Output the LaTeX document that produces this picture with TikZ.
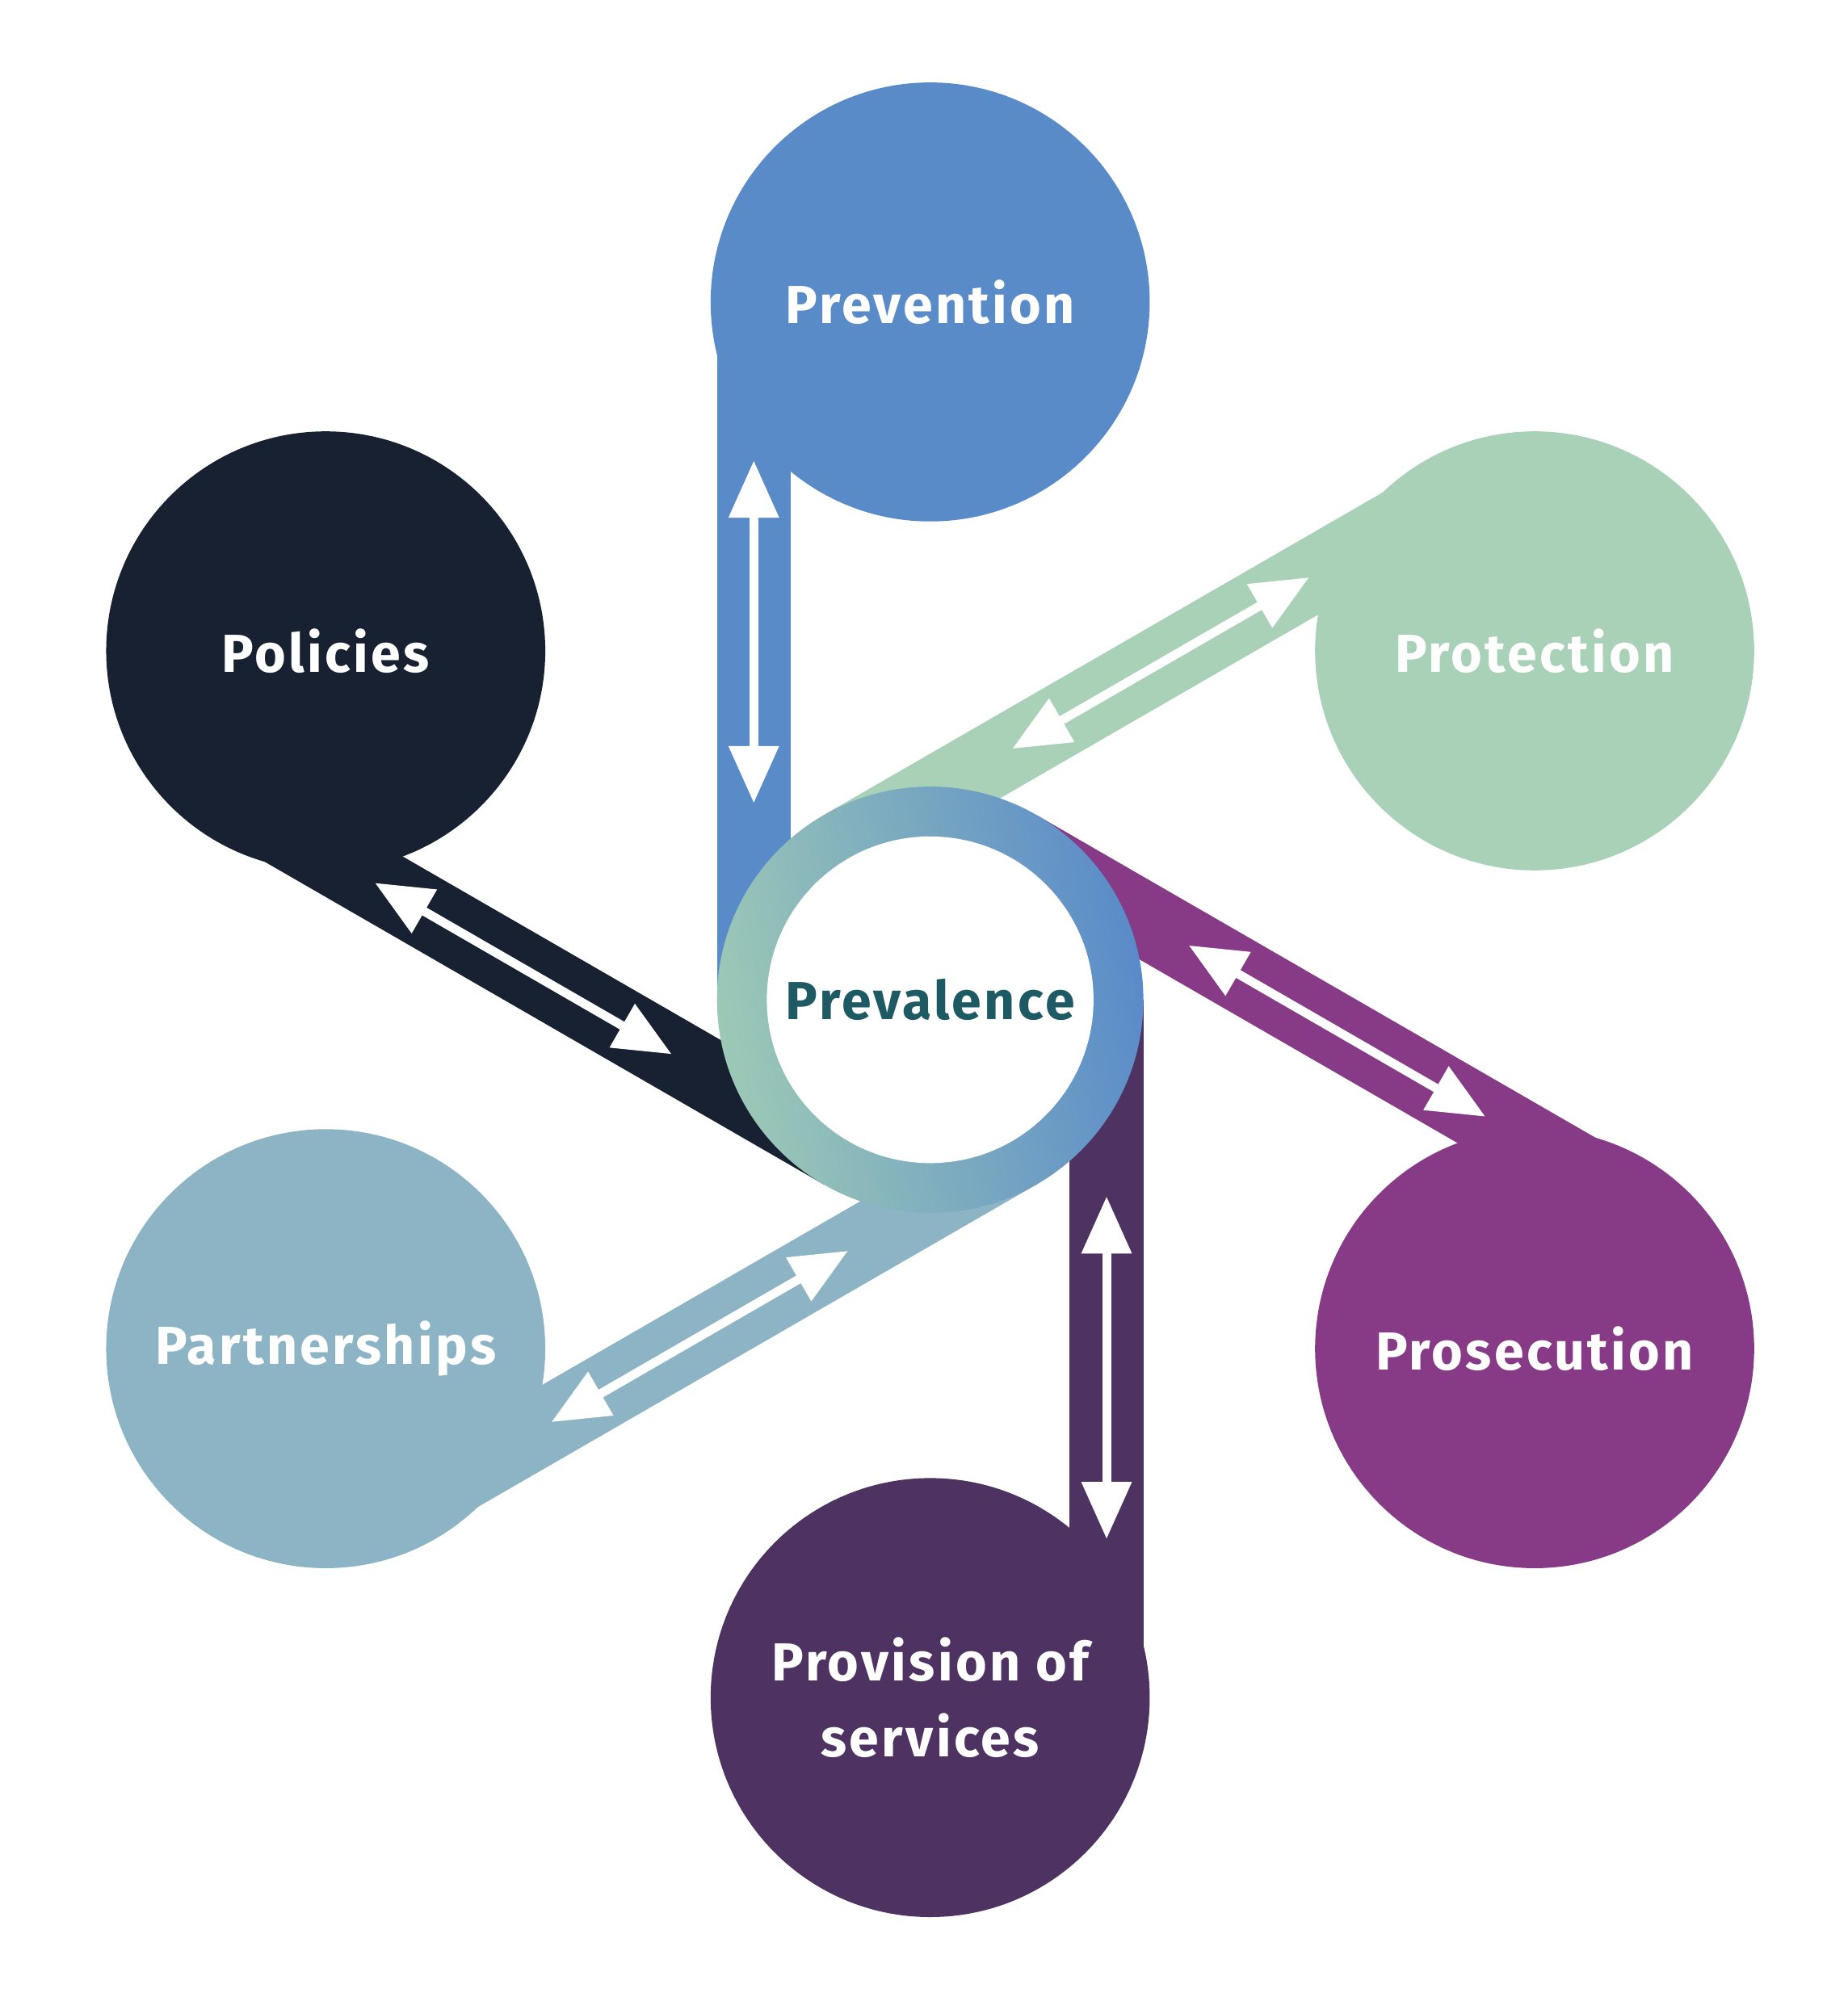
\documentclass[tikz,border=0pt]{standalone}
\usepackage{fontspec}
\setmainfont{Fira Sans}
\newfontfamily\lblfont[LetterSpace=5]{Fira Sans}
\usetikzlibrary{arrows.meta}
\definecolor{prevc}{HTML}{5A8BC9}
\definecolor{protc}{HTML}{A8D1B7}
\definecolor{prosc}{HTML}{873B86}
\definecolor{provc}{HTML}{4E3262}
\definecolor{partc}{HTML}{8CB4C4}
\definecolor{polc}{HTML}{172132}
\definecolor{ringg}{HTML}{9CC9B6}
\definecolor{textc}{HTML}{1E5A63}
\begin{document}
\begin{tikzpicture}[x=0.1mm,y=0.1mm,
    >={Triangle[length=4.5mm,width=3.8mm]},
    arrow/.style={<->,white,line width=0.7mm},
    main node/.style={circle,minimum size=34.6mm,inner sep=0pt,text=white,
      font=\lblfont\fontsize{12}{17}\selectfont\bfseries,align=center}]
  \useasboundingbox (-733,-786) rectangle (723,788);

  % bands with arrows
  \foreach \ang/\col in {90/prevc,30/protc,-30/prosc,-90/provc,-150/partc,150/polc}{
    \begin{scope}[rotate=\ang]
      \fill[\col] (0,110) rectangle (550,168);
      \draw[arrow] (155,139) -- (425,139);
    \end{scope}}

  % outer circles
  \node[main node,fill=prevc] (prev) at (90:550) {Prevention};
  \node[main node,fill=protc] (prot) at (30:550) {Protection};
  \node[main node,fill=prosc] (pros) at (-30:550) {Prosecution};
  \node[main node,fill=provc] (prov) at (-90:550) {Provision of\\services};
  \node[main node,fill=partc] (part) at (-150:550) {Partnerships};
  \node[main node,fill=polc] (pol) at (150:550) {Policies};

  % centre
  \shade[left color=ringg,right color=prevc,shading angle=100] (0,0) circle (168);
  \node[circle,fill=white,minimum size=25mm,text=textc,
    font=\lblfont\fontsize{12}{17}\selectfont\bfseries] (prevalence) at (0,0) {Prevalence};
\end{tikzpicture}
\end{document}
